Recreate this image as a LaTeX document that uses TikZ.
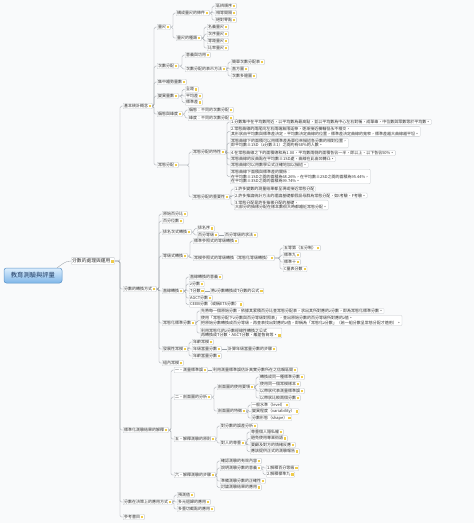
\documentclass[tikz,border=0pt]{standalone}
\usepackage{fontspec}
\newfontfamily\cjk{Noto Sans CJK TC}
\definecolor{bg}{HTML}{F9FAFB}
\definecolor{txt}{HTML}{333333}
\definecolor{edge}{HTML}{C6CACE}
\definecolor{wire}{HTML}{9AA0A6}
\definecolor{noteyel}{HTML}{EFCB4A}
\definecolor{roothi}{HTML}{DCEEFD}
\definecolor{rootlo}{HTML}{7FB6E8}
\definecolor{rootedge}{HTML}{5B93C9}
\definecolor{roottxt}{HTML}{1F3B63}
\newcommand\nt{\hspace{0.9pt}\textcolor{noteyel}{\rule[-0.2pt]{2.3pt}{2.7pt}}}
\tikzset{
  box/.style={draw=edge, fill=white, line width=0.3pt, rounded corners=0.8pt, anchor=west,
    font=\cjk\fontsize{4}{4.8}\selectfont, text=txt, inner xsep=1pt, inner ysep=0.6pt},
  topic/.style={box, text height=3.4pt, text depth=0.9pt, execute at end node=\nt},
  main/.style={topic, font=\cjk\fontsize{4.8}{5.6}\selectfont, text height=4pt, text depth=1pt, inner ysep=0.9pt},
  memo/.style={box, align=left},
  memonote/.style={memo, execute at end node=\nt},
  root/.style={draw=rootedge, line width=0.5pt, rounded corners=2.5pt, top color=roothi, bottom color=rootlo,
    minimum width=58pt, minimum height=15pt, font=\cjk\fontsize{6.3}{7}\selectfont, text=roottxt},
  link/.style={draw=wire, line width=0.35pt, rounded corners=1.5pt},
}
\begin{document}
\begin{tikzpicture}[x=1pt, y=-1pt]
  \fill [bg] (0,0) rectangle (474,523);
  \useasboundingbox (0,0) rectangle (474,523);
  % root and main topic
  \node [root] (root) at (33,275.5) {教育測驗與評量};
  \node [main] (proc) at (71,261) {分數的處理與運用};
  \draw [link] ([xshift=-5pt]root.north east) to[out=35,in=180] (proc.west);
  % level 2
  \node [topic] (basic) at (123,106) {基本統計概念};
  \node [topic] (conv) at (123,289) {分數的轉換方式};
  \node [topic] (interp) at (123,430) {標準化測驗結果的解釋};
  \node [topic] (decis) at (123,502) {分數在決策上的應用方式};
  \node [topic] (ref) at (123,517) {參考書目};
  % basic statistics
  \node [topic] (scale) at (157,27) {量尺};
  \node [topic] (cond) at (176,13) {構成量尺的條件};
  \node [topic] (cond1) at (215,6) {區辨順序};
  \node [topic] (cond2) at (215,13) {相等間隔};
  \node [topic] (cond3) at (215,20) {絕對零點};
  \node [topic] (kind) at (176,38) {量尺的種類};
  \node [topic] (kind1) at (207,27) {名義量尺};
  \node [topic] (kind2) at (207,34) {次序量尺};
  \node [topic] (kind3) at (207,41) {等距量尺};
  \node [topic] (kind4) at (207,48) {比率量尺};
  \node [topic] (freq) at (157,66) {次數分配};
  \node [topic] (freq1) at (185,55) {意義與功用};
  \node [topic] (show) at (185,69) {次數分配的表示方法};
  \node [topic] (show1) at (231,62) {簡單次數分配表};
  \node [topic] (show2) at (231,69) {直方圖};
  \node [topic] (show3) at (231,76) {次數多邊圖};
  \node [topic] (central) at (157,82) {集中趨勢量數};
  \node [topic] (var) at (157,96) {變異量數};
  \node [topic] (var1) at (185,89.5) {全距};
  \node [topic] (var2) at (185,96) {平均差};
  \node [topic] (var3) at (185,102.5) {標準差};
  \node [topic] (skew) at (157,114) {偏態與峰度};
  \node [topic] (skew1) at (188,110) {偏態：不同的次數分配};
  \node [topic] (skew2) at (188,118) {峰度：不同的次數分配};
  \node [topic] (normal) at (157,165) {常態分配};
  \node [topic] (feat) at (192,152) {常態分配的特性};
  \node [memo] (feat1) at (230,122) {1.分數集中在平均數附近，以平均數為最高點，並以平均數為中心左右對稱，成單峰，中位數與眾數等於平均數。};
  \node [memo] (feat2) at (230,131.5) {2.常態曲線的兩尾向左右兩端無限延伸，逐漸接近橫軸但永不相交，\\其形狀由平均數與標準差決定，平均數決定曲線的位置，標準差決定曲線的寬窄，標準差越大曲線越平坦。};
  \node [memo] (feat3) at (230,143) {常態曲線下的面積可以用標準差為單位來描述各分數的相對位置，\\即平均數±1SD（z分數±1）之間約有68\%的人數。};
  \node [memo] (feat4) at (230,153) {4.在常態曲線之下的面積總和為1.00，平均數兩側的面積各佔一半，即以上、以下各佔50\%。};
  \node [memo] (feat5) at (230,159) {常態曲線的反曲點在平均數±1SD處，曲線在此由凹轉凸。};
  \node [memo] (feat6) at (230,165) {常態曲線可以用數學公式正確地加以描述。};
  \node [memo] (feat7) at (230,176.5) {常態曲線下面積與標準差的關係：\\在平均數±1SD之間的面積為68.26\%，在平均數±2SD之間的面積為95.44\%，\\在平均數±3SD之間的面積為99.74\%。};
  \node [topic] (imp) at (192,197) {常態分配的重要性};
  \node [memo] (imp1) at (234,189) {1.許多變數的測量結果都呈現或接近常態分配};
  \node [memo] (imp2) at (234,195.5) {2.許多推論統計方法的理論基礎都假設母群為常態分配，如t考驗、F考驗。};
  \node [memo] (imp3) at (234,205) {3.常態分配是許多抽樣分配的基礎，\\大部分的抽樣分配在樣本數很大時都趨近常態分配。};
  % score conversion
  \node [topic] (raw) at (162,214) {原始百分比};
  \node [topic] (pct) at (162,221) {百分位數};
  \node [topic] (rank) at (162,232) {排名次式轉換};
  \node [topic] (rank1) at (197,228.5) {排名序};
  \node [topic] (rank2) at (197,235) {百分等級};
  \node [topic] (rank2a) at (224,235) {百分等級的求法};
  \node [topic] (grade) at (162,256) {等級式轉換};
  \node [topic] (grade1) at (193,241) {標準參照式的等級轉換};
  \node [topic] (grade2) at (193,258) {常模參照式的等級轉換（常態化等級轉換）};
  \node [topic] (g1) at (283,248) {五等第（五分制）};
  \node [topic] (g2) at (283,255) {標準九};
  \node [topic] (g3) at (283,262) {標準十};
  \node [topic] (g4) at (283,269) {C量表分數};
  \node [topic] (lin) at (162,291) {直線轉換};
  \node [topic] (lin1) at (189,277) {直線轉換的意義};
  \node [topic] (lin2) at (189,284) {z分數};
  \node [topic] (lin3) at (189,291) {T分數};
  \node [topic] (lin3a) at (210,291) {將z分數轉換成T分數的公式};
  \node [topic] (lin4) at (189,298) {AGCT分數};
  \node [topic] (lin5) at (189,304.5) {CEEB分數（或稱ETS分數）};
  \node [topic] (nstd) at (162,323) {常態化標準分數};
  \node [memo] (nstd1) at (200,311) {先將每一個原始分數，依據其累積百分比查常態分配表，求出其所對應的z分數，即為常態化標準分數。};
  \node [memo] (nstd2) at (200,320.5) {使用「常態分配下z分數與百分等級對照表」，查出原始分數的百分等級所對應的z值。\\把原始分數轉換成百分等級，再查表找出對應的z值，即稱為「常態化z分數」（若一組分數呈常態分配才適用）。};
  \node [memonote] (nstd3) at (200,333) {利用常態化的z分數經線性轉換之公式\\再轉換成T分數、AGCT分數、離差智商等。};
  \node [topic] (dev) at (162,349) {發展性常模};
  \node [topic] (dev1) at (192,342) {年齡常模};
  \node [topic] (dev2) at (192,349) {年級當量分數};
  \node [topic] (dev2a) at (227,349) {計算年級當量分數的步驟};
  \node [topic] (dev3) at (192,356) {年齡當量分數};
  \node [topic] (within) at (162,363) {組內常模};
  % interpretation of standardized tests
  \node [topic] (sem) at (174,370) {一、測量標準誤};
  \node [topic] (sem1) at (212,370) {利用測量標準誤估計真實分數所在之信賴區間};
  \node [topic] (prof) at (174,397) {二、剖面圖的分析};
  \node [topic] (use) at (217,387) {剖面圖的使用要領};
  \node [topic] (use1) at (259,377) {轉換成同一種標準分數};
  \node [topic] (use2) at (259,384) {使用同一個常模樣本};
  \node [topic] (use3) at (259,391) {以帶狀代表測量標準誤};
  \node [topic] (use4) at (259,398) {以帶狀比較兩個分數};
  \node [topic] (pf) at (217,411) {剖面圖的特徵};
  \node [topic] (pf1) at (251,405) {一般水準（level）};
  \node [topic] (pf2) at (251,411.5) {變異程度（variability）};
  \node [topic] (pf3) at (251,418) {分數形態（shape）};
  \node [topic] (five) at (174,439) {五、解釋測驗的原則};
  \node [topic] (five1) at (220,426) {對分數的誤差分析};
  \node [topic] (resp) at (220,443) {對人的尊重};
  \node [topic] (resp1) at (250,432) {尊重個人隱私權};
  \node [topic] (resp2) at (250,438.5) {避免使用專業術語};
  \node [topic] (resp3) at (250,445) {要顧及對方的情緒反應};
  \node [topic] (resp4) at (250,451.5) {應該提供正式的測驗報告};
  \node [topic] (six) at (174,475) {六、解釋測驗的步驟};
  \node [topic] (six1) at (220,461) {確認測驗的有效內容};
  \node [topic] (six2) at (220,468) {說明測驗分數的意義};
  \node [topic] (six2a) at (266,468) {1.解釋百分等級};
  \node [topic] (six2b) at (266,474.5) {2.解釋標準九};
  \node [topic] (six3) at (220,481) {準備測驗分數的正確性};
  \node [topic] (six4) at (220,487.5) {討論測驗結果的應用};
  % decisions
  \node [topic] (dec1) at (177,495) {預測值};
  \node [topic] (dec2) at (177,502) {多元迴歸的應用};
  \node [topic] (dec3) at (177,509) {多重切截點的應用};
  % connectors
  \foreach \c in {basic,conv,interp,decis,ref}
    \draw [link] (proc.east) -| ([xshift=-3pt]\c.west) -- (\c.west);
  \foreach \c in {scale,freq,central,var,skew,normal}
    \draw [link] (basic.east) -| ([xshift=-3pt]\c.west) -- (\c.west);
  \foreach \c in {cond,kind}
    \draw [link] (scale.east) -| ([xshift=-3pt]\c.west) -- (\c.west);
  \foreach \c in {cond1,cond2,cond3}
    \draw [link] (cond.east) -| ([xshift=-3pt]\c.west) -- (\c.west);
  \foreach \c in {kind1,kind2,kind3,kind4}
    \draw [link] (kind.east) -| ([xshift=-3pt]\c.west) -- (\c.west);
  \foreach \c in {freq1,show}
    \draw [link] (freq.east) -| ([xshift=-3pt]\c.west) -- (\c.west);
  \foreach \c in {show1,show2,show3}
    \draw [link] (show.east) -| ([xshift=-3pt]\c.west) -- (\c.west);
  \foreach \c in {var1,var2,var3}
    \draw [link] (var.east) -| ([xshift=-3pt]\c.west) -- (\c.west);
  \foreach \c in {skew1,skew2}
    \draw [link] (skew.east) -| ([xshift=-3pt]\c.west) -- (\c.west);
  \foreach \c in {feat,imp}
    \draw [link] (normal.east) -| ([xshift=-3pt]\c.west) -- (\c.west);
  \foreach \c in {feat1,feat2,feat3,feat4,feat5,feat6,feat7}
    \draw [link] (feat.east) -| ([xshift=-3pt]\c.west) -- (\c.west);
  \foreach \c in {imp1,imp2,imp3}
    \draw [link] (imp.east) -| ([xshift=-3pt]\c.west) -- (\c.west);
  \foreach \c in {raw,pct,rank,grade,lin,nstd,dev,within}
    \draw [link] (conv.east) -| ([xshift=-3pt]\c.west) -- (\c.west);
  \foreach \c in {rank1,rank2}
    \draw [link] (rank.east) -| ([xshift=-3pt]\c.west) -- (\c.west);
  \draw [link] (rank2) -- (rank2a);
  \foreach \c in {grade1,grade2}
    \draw [link] (grade.east) -| ([xshift=-3pt]\c.west) -- (\c.west);
  \foreach \c in {g1,g2,g3,g4}
    \draw [link] (grade2.east) -| ([xshift=-3pt]\c.west) -- (\c.west);
  \foreach \c in {lin1,lin2,lin3,lin4,lin5}
    \draw [link] (lin.east) -| ([xshift=-3pt]\c.west) -- (\c.west);
  \draw [link] (lin3) -- (lin3a);
  \foreach \c in {nstd1,nstd2,nstd3}
    \draw [link] (nstd.east) -| ([xshift=-3pt]\c.west) -- (\c.west);
  \foreach \c in {dev1,dev2,dev3}
    \draw [link] (dev.east) -| ([xshift=-3pt]\c.west) -- (\c.west);
  \draw [link] (dev2) -- (dev2a);
  \foreach \c in {sem,prof,five,six}
    \draw [link] (interp.east) -| ([xshift=-3pt]\c.west) -- (\c.west);
  \draw [link] (sem) -- (sem1);
  \foreach \c in {use,pf}
    \draw [link] (prof.east) -| ([xshift=-3pt]\c.west) -- (\c.west);
  \foreach \c in {use1,use2,use3,use4}
    \draw [link] (use.east) -| ([xshift=-3pt]\c.west) -- (\c.west);
  \foreach \c in {pf1,pf2,pf3}
    \draw [link] (pf.east) -| ([xshift=-3pt]\c.west) -- (\c.west);
  \foreach \c in {five1,resp}
    \draw [link] (five.east) -| ([xshift=-3pt]\c.west) -- (\c.west);
  \foreach \c in {resp1,resp2,resp3,resp4}
    \draw [link] (resp.east) -| ([xshift=-3pt]\c.west) -- (\c.west);
  \foreach \c in {six1,six2,six3,six4}
    \draw [link] (six.east) -| ([xshift=-3pt]\c.west) -- (\c.west);
  \foreach \c in {six2a,six2b}
    \draw [link] (six2.east) -| ([xshift=-3pt]\c.west) -- (\c.west);
  \foreach \c in {dec1,dec2,dec3}
    \draw [link] (decis.east) -| ([xshift=-3pt]\c.west) -- (\c.west);
\end{tikzpicture}
\end{document}
